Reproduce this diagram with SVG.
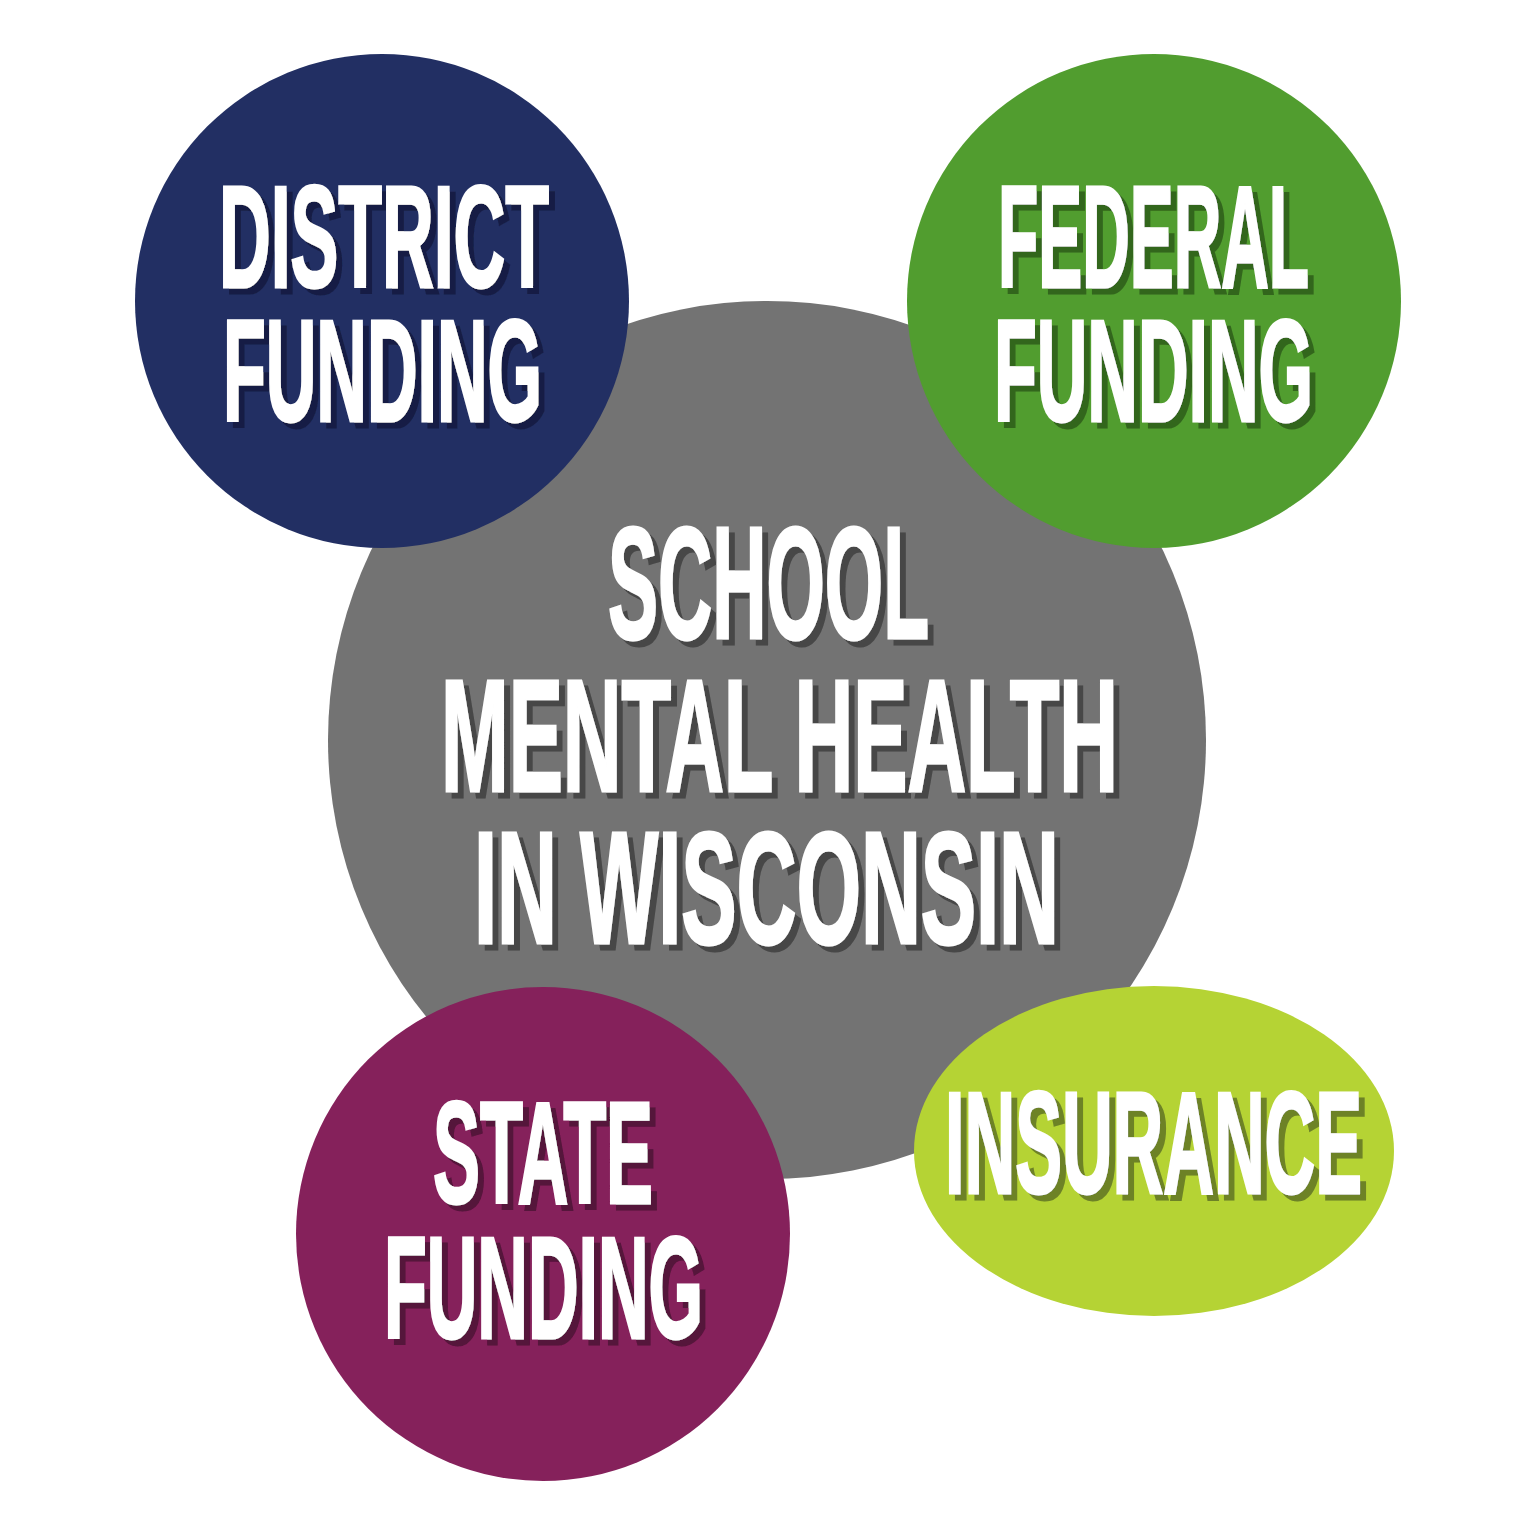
<svg xmlns="http://www.w3.org/2000/svg" width="1536" height="1536" viewBox="0 0 1536 1536">
<style>
text{font-family:"Liberation Sans",Arial,sans-serif;font-weight:bold;fill:#ffffff;stroke:#ffffff;stroke-width:3;stroke-linejoin:miter;}
.s{font-size:144px;}
.c{font-size:160px;}
</style>
<defs>
<filter id="shGray" x="-5%" y="-5%" width="112%" height="115%">
<feFlood flood-color="#474747"/><feComposite in2="SourceAlpha" operator="in"/><feOffset dx="6" dy="6" result="sh"/>
<feMerge><feMergeNode in="sh"/><feMergeNode in="SourceGraphic"/></feMerge>
</filter>
<filter id="shBlue" x="-5%" y="-5%" width="112%" height="115%">
<feFlood flood-color="#161f45"/><feComposite in2="SourceAlpha" operator="in"/><feOffset dx="6" dy="6" result="sh"/>
<feMerge><feMergeNode in="sh"/><feMergeNode in="SourceGraphic"/></feMerge>
</filter>
<filter id="shGreen" x="-5%" y="-5%" width="112%" height="115%">
<feFlood flood-color="#33661d"/><feComposite in2="SourceAlpha" operator="in"/><feOffset dx="6" dy="6" result="sh"/>
<feMerge><feMergeNode in="sh"/><feMergeNode in="SourceGraphic"/></feMerge>
</filter>
<filter id="shPurple" x="-5%" y="-5%" width="112%" height="115%">
<feFlood flood-color="#55133a"/><feComposite in2="SourceAlpha" operator="in"/><feOffset dx="6" dy="6" result="sh"/>
<feMerge><feMergeNode in="sh"/><feMergeNode in="SourceGraphic"/></feMerge>
</filter>
<filter id="shLime" x="-5%" y="-5%" width="112%" height="125%">
<feFlood flood-color="#6d8228"/><feComposite in2="SourceAlpha" operator="in"/><feOffset dx="6" dy="6" result="sh"/>
<feMerge><feMergeNode in="sh"/><feMergeNode in="SourceGraphic"/></feMerge>
</filter>
</defs>
<rect width="1536" height="1536" fill="#ffffff"/>
<g id="center">
<circle cx="767" cy="740" r="439" fill="#737373"/>
<g filter="url(#shGray)">
<text class="c" x="608" y="638" textLength="321" lengthAdjust="spacingAndGlyphs">SCHOOL</text>
<text class="c" x="441" y="791" textLength="677" lengthAdjust="spacingAndGlyphs">MENTAL HEALTH</text>
<text class="c" x="474" y="943" textLength="585" lengthAdjust="spacingAndGlyphs">IN WISCONSIN</text>
</g>
</g>
<g id="district">
<circle cx="382" cy="301" r="247" fill="#222f63"/>
<g filter="url(#shBlue)">
<text class="s" x="219" y="287" textLength="330" lengthAdjust="spacingAndGlyphs">DISTRICT</text>
<text class="s" x="223" y="421" textLength="319" lengthAdjust="spacingAndGlyphs">FUNDING</text>
</g>
</g>
<g id="federal">
<circle cx="1154" cy="301" r="247" fill="#519d2f"/>
<g filter="url(#shGreen)">
<text class="s" x="998" y="287" textLength="311" lengthAdjust="spacingAndGlyphs">FEDERAL</text>
<text class="s" x="994" y="421" textLength="319" lengthAdjust="spacingAndGlyphs">FUNDING</text>
</g>
</g>
<g id="state">
<circle cx="543" cy="1234" r="247" fill="#85215b"/>
<g filter="url(#shPurple)">
<text class="s" x="433" y="1203" textLength="220" lengthAdjust="spacingAndGlyphs">STATE</text>
<text class="s" x="384" y="1338" textLength="319" lengthAdjust="spacingAndGlyphs">FUNDING</text>
</g>
</g>
<g id="insurance">
<ellipse cx="1154" cy="1151" rx="240" ry="165" fill="#b5d334"/>
<g filter="url(#shLime)">
<text class="s" x="945" y="1193" textLength="417" lengthAdjust="spacingAndGlyphs">INSURANCE</text>
</g>
</g>
<g id="connectors"></g>
</svg>
